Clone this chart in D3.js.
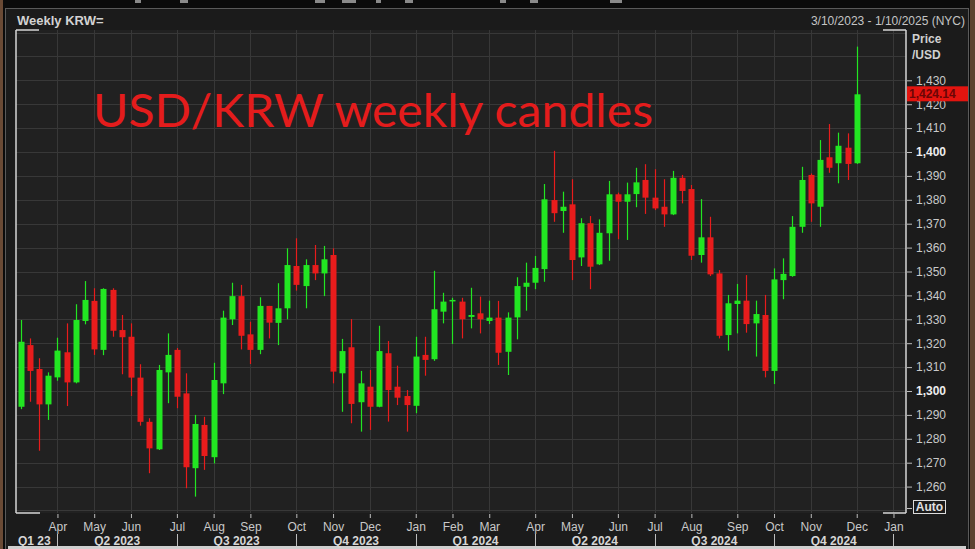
<!DOCTYPE html>
<html><head><meta charset="utf-8">
<script src="https://cdn.jsdelivr.net/npm/d3@7"></script>
<style>html,body{margin:0;padding:0;background:#0c0c0c;}svg{display:block;}</style>
</head><body>
<svg id="c" width="975" height="549"></svg>
<script>
// ---- data (weekly USD/KRW candles, weeks ending Fridays from 2023-03-10) ----
const firstWeek = "2023-03-10";
const openVals  = [1293.4,1319.2,1309.2,1294.4,1305.7,1316.2,1303.6,1329.3,1337.7,1317.2,1342.3,1325.5,1322.7,1305.6,1287.1,1275.6,1307.8,1317.2,1299.0,1267.7,1285.8,1272.3,1303.2,1330.0,1339.7,1323.7,1317.2,1335.6,1328.5,1334.6,1352.3,1343.9,1352.7,1349.2,1356.9,1307.4,1318.3,1295.3,1301.8,1293.4,1315.8,1301.8,1297.9,1293.8,1315.1,1313.3,1333.2,1337.7,1337.4,1331.0,1332.5,1329.3,1330.7,1316.4,1330.8,1343.6,1345.3,1351.0,1379.9,1375.3,1378.1,1355.9,1370.2,1353.0,1366.0,1382.3,1379.2,1382.4,1388.3,1380.9,1377.1,1373.9,1389.2,1384.5,1356.9,1364.3,1349.2,1323.4,1336.4,1337.8,1328.3,1331.8,1308.4,1346.4,1348.1,1368.7,1390.4,1377.1,1397.8,1395.3,1401.8,1395.3];
const highVals  = [1329.7,1322.0,1313.7,1307.8,1322.3,1328.3,1336.3,1346.0,1343.0,1343.0,1343.0,1331.8,1328.3,1311.2,1288.6,1310.9,1324.1,1318.0,1307.4,1290.0,1289.2,1311.8,1333.6,1345.3,1344.4,1329.0,1339.2,1335.6,1345.1,1359.7,1363.9,1355.1,1361.1,1360.7,1359.7,1321.8,1330.1,1308.4,1308.8,1327.3,1320.9,1310.6,1300.4,1322.7,1322.7,1350.3,1341.1,1339.0,1339.0,1343.2,1339.5,1337.8,1337.7,1332.9,1347.6,1353.7,1356.5,1386.6,1400.5,1383.4,1388.6,1372.3,1373.2,1371.8,1387.9,1383.0,1387.2,1393.4,1394.9,1392.8,1388.6,1392.1,1390.4,1386.2,1380.3,1372.9,1350.6,1340.2,1344.8,1348.5,1337.8,1340.2,1351.3,1355.5,1373.2,1393.8,1391.0,1405.0,1411.7,1408.1,1407.8,1444.1];
const lowVals   = [1292.4,1295.5,1275.0,1287.9,1304.3,1293.7,1303.2,1327.9,1315.1,1315.0,1322.7,1307.0,1297.9,1285.5,1265.6,1275.3,1294.9,1292.8,1259.3,1255.8,1267.0,1269.7,1298.7,1327.6,1317.4,1311.3,1315.4,1322.0,1319.2,1330.0,1342.0,1334.6,1346.4,1339.7,1303.2,1291.3,1286.5,1283.0,1283.7,1293.2,1287.2,1294.1,1283.0,1290.7,1306.4,1312.6,1328.3,1319.7,1322.0,1326.2,1324.1,1328.0,1310.9,1306.7,1321.6,1333.6,1342.6,1345.7,1370.8,1366.2,1346.4,1352.3,1342.6,1352.7,1354.5,1363.5,1363.2,1376.9,1374.1,1375.7,1368.7,1373.6,1378.5,1354.8,1353.7,1348.1,1322.0,1316.9,1324.1,1324.4,1314.4,1305.7,1302.9,1338.4,1347.8,1366.2,1370.8,1368.7,1391.3,1386.9,1388.3,1395.0];
const closeVals = [1320.6,1308.4,1294.4,1306.4,1316.9,1303.6,1329.7,1338.1,1317.4,1342.7,1325.2,1322.5,1305.6,1287.1,1276.0,1308.8,1315.1,1297.6,1268.1,1286.2,1272.8,1304.6,1330.7,1339.7,1323.1,1317.2,1335.6,1328.6,1334.6,1352.7,1344.4,1352.7,1349.2,1355.1,1308.1,1316.7,1294.6,1303.2,1293.4,1316.7,1300.4,1297.2,1294.1,1314.4,1313.0,1334.2,1337.4,1338.1,1330.0,1331.8,1330.0,1330.7,1316.0,1330.7,1343.9,1345.3,1351.5,1380.2,1374.4,1377.1,1354.8,1370.2,1352.0,1366.2,1382.3,1379.2,1382.3,1387.3,1380.9,1376.4,1373.9,1389.2,1383.7,1356.6,1364.3,1348.8,1323.1,1336.7,1337.8,1328.0,1332.2,1308.4,1346.7,1349.0,1368.7,1388.3,1378.5,1396.7,1393.4,1402.6,1395.0,1424.14];
const lastPriceLabel = "1,424.14";
const yTickValues = [1260,1270,1280,1290,1300,1310,1320,1330,1340,1350,1360,1370,1380,1390,1400,1410,1420,1430];
const yBoldTicks = [1300,1400];
const monthLabels = ["Apr","May","Jun","Jul","Aug","Sep","Oct","Nov","Dec","Jan","Feb","Mar","Apr","May","Jun","Jul","Aug","Sep","Oct","Nov","Dec","Jan"];
const quarterLabels = ["Q1 23","Q2 2023","Q3 2023","Q4 2023","Q1 2024","Q2 2024","Q3 2024","Q4 2024"];
const titleText = "Weekly KRW=";
const rangeText = "3/10/2023 - 1/10/2025 (NYC)";
const bigTitle = "USD/KRW weekly candles";

// ---- build ----
const parse = d3.utcParse("%Y-%m-%d");
const start = parse(firstWeek);
const candles = openVals.map((o,i)=>({date:d3.utcDay.offset(start,7*i),open:o,high:highVals[i],low:lowVals[i],close:closeVals[i]}));

const L=16, R=906, T=30, B=513;
const x = d3.scaleUtc().domain([Date.UTC(2023,2,6,10), Date.UTC(2025,0,12,13)]).range([L,R]);
const y = d3.scaleLinear().domain([1248.95,1451.05]).range([B,T]);

const monthStarts = d3.utcMonth.range(Date.UTC(2023,3,1), Date.UTC(2025,1,1));
const monthTicks = monthStarts.map(m=>d3.utcFriday.ceil(m));
const quarterStarts = d3.utcMonth.every(3).range(Date.UTC(2023,3,1), Date.UTC(2025,1,1)).map(m=>d3.utcFriday.ceil(m));

const svg = d3.select("#c");
const font = "'Liberation Sans', Arial, sans-serif";
const txt = "#c9c9c9";

// frame & panel
svg.append("rect").attr("width",975).attr("height",549).attr("fill","#0b0b0b");
svg.append("rect").attr("x",0).attr("y",0).attr("width",3).attr("height",549).attr("fill","#6a4a35");
svg.append("rect").attr("x",970).attr("y",0).attr("width",5).attr("height",549).attr("fill","#5e4030");
svg.append("rect").attr("x",5.5).attr("y",8.5).attr("width",963).attr("height",545).attr("fill","#1b1b1b").attr("stroke","#5a5a5a");
// toolbar fragments at top
[[135,6],[180,8],[315,10],[342,14],[376,5],[405,8],[500,6],[530,8],[610,12]].forEach(([a,w])=>{
  svg.append("rect").attr("x",a).attr("y",0).attr("width",w).attr("height",3).attr("fill","#8a8a8a");
});
// bottom scrollbar strip
svg.append("rect").attr("x",8).attr("y",546).attr("width",958).attr("height",3).attr("fill","#cfcfcf");

// plot background
svg.append("rect").attr("x",L).attr("y",T).attr("width",R-L).attr("height",B-T).attr("fill","#212121");

// grid
const gridVals = d3.range(1250,1451,10).filter(v=>y(v)>=T && y(v)<=B);
svg.append("g").selectAll("line").data(gridVals).join("line")
  .attr("x1",L).attr("x2",R).attr("y1",d=>Math.round(y(d))+0.5).attr("y2",d=>Math.round(y(d))+0.5)
  .attr("stroke","#383838").attr("stroke-width",1);
svg.append("g").selectAll("line").data(monthTicks).join("line")
  .attr("x1",d=>Math.round(x(d))+0.5).attr("x2",d=>Math.round(x(d))+0.5).attr("y1",T).attr("y2",B)
  .attr("stroke","#383838").attr("stroke-width",1);

// plot frame pieces
const fc = "#d6d6d6";
const fr = svg.append("g").attr("stroke",fc).attr("stroke-width",1.5).attr("fill","none");
fr.append("line").attr("x1",L).attr("x2",L).attr("y1",T).attr("y2",B);
fr.append("line").attr("x1",R).attr("x2",R).attr("y1",T).attr("y2",B);
fr.append("line").attr("x1",L).attr("x2",39).attr("y1",T).attr("y2",T);
fr.append("line").attr("x1",L).attr("x2",40).attr("y1",B).attr("y2",B);
fr.append("line").attr("x1",883).attr("x2",R).attr("y1",T).attr("y2",T);
fr.append("line").attr("x1",883).attr("x2",R).attr("y1",B).attr("y2",B);

// candles
const up="#22e622", dn="#e81c1c";
const cg = svg.append("g");
cg.selectAll("line").data(candles).join("line")
  .attr("x1",d=>Math.round(x(d.date))+0.5).attr("x2",d=>Math.round(x(d.date))+0.5)
  .attr("y1",d=>y(d.high)).attr("y2",d=>y(d.low))
  .attr("stroke",d=>d.close>=d.open?up:dn).attr("stroke-width",1.2);
cg.selectAll("rect").data(candles).join("rect")
  .attr("x",d=>Math.round(x(d.date))-2.5).attr("width",6)
  .attr("y",d=>y(Math.max(d.open,d.close)))
  .attr("height",d=>Math.max(1.5,Math.abs(y(d.open)-y(d.close))))
  .attr("fill",d=>d.close>=d.open?up:dn);

// y axis
const yAxis = d3.axisRight(y).tickValues(yTickValues).tickSize(5).tickPadding(4).tickFormat(d3.format(","));
const ya = svg.append("g").attr("transform",`translate(${R+1},0)`).call(yAxis);
ya.select(".domain").remove();
ya.selectAll(".tick line").attr("stroke","#bdbdbd");
ya.selectAll(".tick text").attr("fill",d=>yBoldTicks.includes(d)?"#ededed":txt)
  .attr("font-family",font).attr("font-size",12).attr("font-weight",d=>yBoldTicks.includes(d)?"bold":"normal");
svg.append("text").attr("x",912).attr("y",43).attr("fill","#d0d0d0").attr("font-family",font).attr("font-size",12).attr("font-weight","bold").text("Price");
svg.append("text").attr("x",912).attr("y",59).attr("fill","#d0d0d0").attr("font-family",font).attr("font-size",12).attr("font-weight","bold").text("/USD");

// last price tag
const lp = closeVals[closeVals.length-1];
svg.append("rect").attr("x",907).attr("y",y(lp)-8).attr("width",61).attr("height",15).attr("fill","#e3140f");
svg.append("text").attr("x",909).attr("y",y(lp)+3.5).attr("fill","#6a0606").attr("font-family",font).attr("font-size",12).attr("font-weight","bold").text(lastPriceLabel);

// Auto box
svg.append("line").attr("x1",907).attr("x2",912).attr("y1",508.5).attr("y2",508.5).attr("stroke","#bdbdbd");
svg.append("rect").attr("x",913.5).attr("y",500.5).attr("width",32).attr("height",13).attr("fill","none").attr("stroke","#dcdcdc");
svg.append("text").attr("x",929.5).attr("y",511).attr("text-anchor","middle").attr("fill","#e0e0e0").attr("font-family",font).attr("font-size",12).attr("font-weight","bold").text("Auto");

// x axis: months
const xAxis = d3.axisBottom(x).tickValues(monthTicks).tickSize(4).tickPadding(4).tickFormat((d,i)=>monthLabels[i]);
const xa = svg.append("g").attr("transform",`translate(0,${B+1})`).call(xAxis);
xa.select(".domain").remove();
xa.selectAll(".tick line").attr("stroke","#bdbdbd");
xa.selectAll(".tick text").attr("fill",txt).attr("font-family",font).attr("font-size",12);

// quarter row
const qEdges = [L, ...quarterStarts.map(d=>x(d))];
const qg = svg.append("g");
qg.selectAll("line").data(quarterStarts).join("line")
  .attr("x1",d=>Math.round(x(d))+0.5).attr("x2",d=>Math.round(x(d))+0.5).attr("y1",534).attr("y2",546)
  .attr("stroke","#bdbdbd");
qg.selectAll("text").data(quarterLabels).join("text")
  .attr("x",(d,i)=> i===0 ? 18 : (qEdges[i]+qEdges[i+1])/2)
  .attr("text-anchor",(d,i)=> i===0 ? "start" : "middle")
  .attr("y",545).attr("fill","#d6d6d6").attr("font-family",font).attr("font-size",12).attr("font-weight","bold")
  .text(d=>d);

// headers
svg.append("text").attr("x",17).attr("y",25).attr("fill","#d2d2d2").attr("font-family",font).attr("font-size",13).attr("font-weight","bold").text(titleText);
svg.append("text").attr("x",965).attr("y",25).attr("text-anchor","end").attr("fill","#c4c4c4").attr("font-family",font).attr("font-size",12).text(rangeText);

// big overlay title
svg.append("text").attr("x",93).attr("y",127).attr("fill","#e41c1c").attr("font-family","Lato, 'Open Sans', sans-serif")
  .attr("font-size",46).attr("textLength",560).attr("lengthAdjust","spacingAndGlyphs").text(bigTitle);
</script>
</body></html>
